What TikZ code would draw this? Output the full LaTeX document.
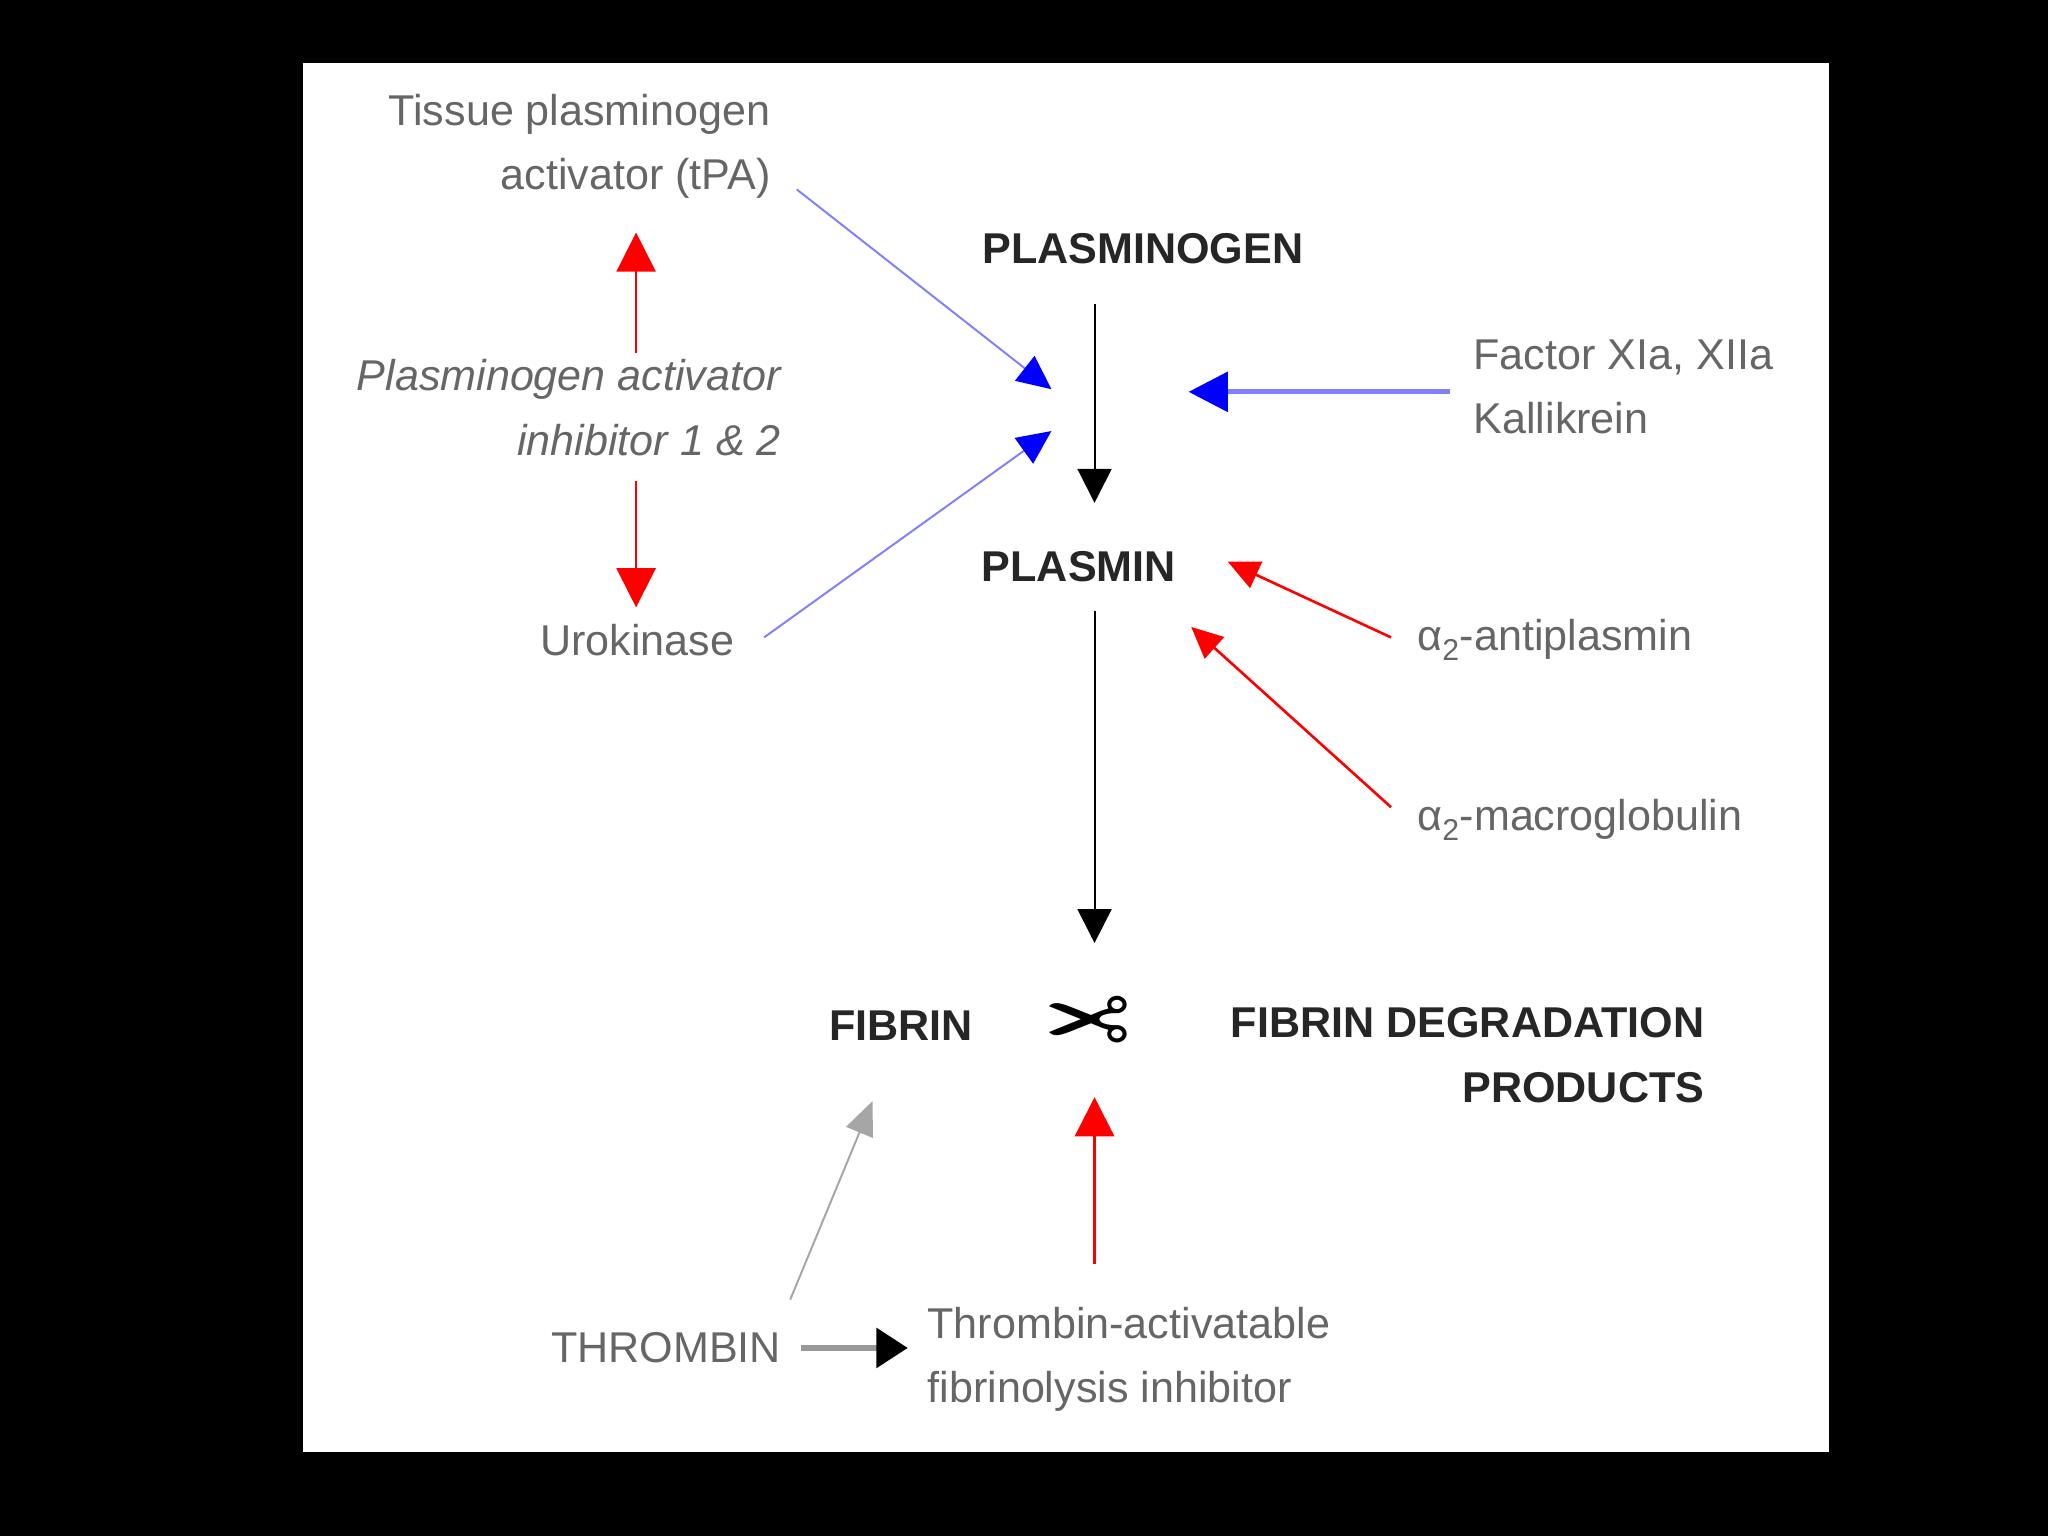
\documentclass[tikz,border=0pt]{standalone}
\usepackage{fontspec}
\setmainfont{Liberation Sans}
\newfontfamily\symfont{DejaVu Sans}
\usetikzlibrary{arrows.meta}
\definecolor{txt}{HTML}{666666}
\definecolor{lblue}{HTML}{8080FF}
\tikzset{
  lbl/.style={font=\fontsize{33}{49}\selectfont, text=txt, inner sep=0pt, align=left},
  bld/.style={font=\fontsize{33}{50}\selectfont\bfseries, text=black!85, inner sep=0pt},
}
\begin{document}
\begin{tikzpicture}[x=1pt,y=-1pt]
\useasboundingbox (0,0) rectangle (1568,1176);
\fill[black] (0,0) rectangle (1568,1176);
\fill[white] (232,48) rectangle (1400,1112);
\begin{scope}
\clip (232,48) rectangle (1400,1112);
\node[lbl, anchor=east, align=right] (tpa) at (590,112) {Tissue plasminogen\\activator (tPA)};
\node[lbl, anchor=east, align=right, font=\fontsize{33}{50}\selectfont\itshape] (pai) at (598,312) {Plasminogen activator\\inhibitor 1 \& 2};
\node[lbl] (uro) at (488,490) {Urokinase};
\node[bld] (pg) at (875,190) {PLASMINOGEN};
\node[bld] (pl) at (826,434) {PLASMIN};
\node[lbl, anchor=west] (fx) at (1128,296) {Factor XIa, XIIa\\Kallikrein};
\node[lbl, anchor=west] (a2a) at (1085,490) {α\textsubscript{2}-antiplasmin};
\node[lbl, anchor=west] (a2m) at (1085,628) {α\textsubscript{2}-macroglobulin};
\node[bld] (fib) at (690,785) {FIBRIN};
\node[inner sep=0pt, font=\symfont\fontsize{80}{80}\selectfont, rotate=180] (sc) at (833,775) {✂};
\node[bld, anchor=east, align=right] (fdp) at (1305,808) {FIBRIN DEGRADATION\\PRODUCTS};
\node[lbl] (thr) at (510,1032) {THROMBIN};
\node[lbl, anchor=west] (tafi) at (710,1041) {Thrombin-activatable\\fibrinolysis inhibitor};
\coordinate (j1) at (805,298);
\coordinate (j2) at (805,330);
\coordinate (k1) at (910,300);
\coordinate (r1) at (940,430);
\coordinate (r2) at (912,480);
\coordinate (pd) at (838,233);
\coordinate (pe) at (838,385);
\coordinate (qd) at (838,468);
\coordinate (qe) at (838,722);
\draw[lblue, line width=1.5pt, -{Triangle[length=26pt,width=24pt,fill=blue,color=blue]}] (610,145) -- (j1);
\draw[lblue, line width=1.5pt, -{Triangle[length=26pt,width=24pt,fill=blue,color=blue]}] (585,488) -- (j2);
\draw[lblue, line width=4pt, -{Triangle[length=30pt,width=30pt,fill=blue,color=blue]}] (1110,300) -- (k1);
\draw[red, line width=1.5pt, -{Triangle[length=30pt,width=30pt]}] (487,270) -- (487,178);
\draw[red, line width=1.5pt, -{Triangle[length=30pt,width=30pt]}] (487,368) -- (487,465);
\draw[black, line width=1.5pt, -{Triangle[length=26pt,width=26pt]}] (pd) -- (pe);
\draw[black, line width=1.5pt, -{Triangle[length=26pt,width=26pt]}] (qd) -- (qe);
\draw[red, line width=2pt, -{Triangle[length=24pt,width=22pt]}] (1065,488) -- (r1);
\draw[red, line width=2pt, -{Triangle[length=24pt,width=22pt]}] (1065,618) -- (r2);
\draw[red, line width=2pt, -{Triangle[length=30pt,width=30pt]}] (838,968) -- (838,840);
\draw[gray!70, line width=1.5pt, -{Triangle[length=26pt,width=22pt]}] (605,995) -- (668,843);
\draw[gray!80, line width=4pt, -{Triangle[length=24pt,width=30pt,fill=black,color=black]}] (thr.east)++(15,0) -- (695,1032);
\end{scope}
\end{tikzpicture}
\end{document}
